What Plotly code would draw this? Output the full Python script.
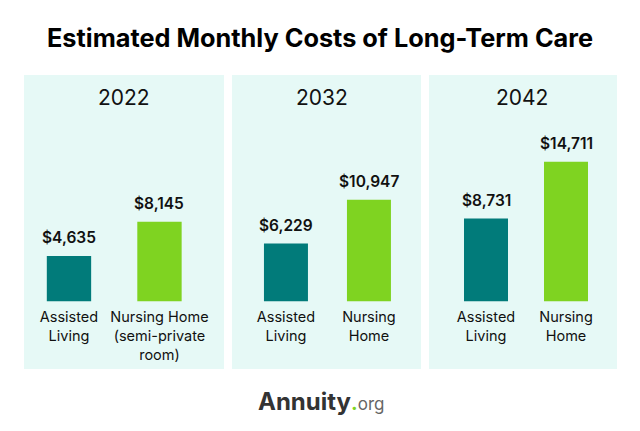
import plotly.graph_objects as go
from plotly.subplots import make_subplots

# data
years = ["2022", "2032", "2042"]
labels_2022 = ["Assisted<br>Living", "Nursing Home<br>(semi-private<br>room)"]
labels_2032 = ["Assisted<br>Living", "Nursing<br>Home"]
labels_2042 = ["Assisted<br>Living", "Nursing<br>Home"]
costs_2022 = [4635, 8145]
costs_2032 = [6229, 10947]
costs_2042 = [8731, 14711]

# the page body has an 8px margin, so the figure is 8px smaller than the window
PAGE_MARGIN = 8
W, H = 640 - PAGE_MARGIN, 431 - PAGE_MARGIN
TEAL = "#017B7A"
GREEN = "#7FD321"
PANEL = "#E6F9F6"
FONT = "Inter"

# pixel boxes of the three panels, left/right
panels = [(24, 224), (232, 421), (429, 617)]
year_centers = [124, 322, 522]
# x axis range for each panel so the bars sit where they do in the picture
x_ranges = [(-0.497, 1.713), (-0.65, 1.627), (-0.7125, 1.6375)]
bar_widths = [0.49, 0.53, 0.55]
panel_top, panel_bottom = 75, 369
base_y, top_y = 301.5, 130
# the original bars are not drawn to one exact scale, so each panel gets its own
y_maxes = [17500, 18441, 18053]


def px_x(v):
    return (v - PAGE_MARGIN) / W


def px_y(v):
    return 1 - (v - PAGE_MARGIN) / H


fig = make_subplots(rows=1, cols=3)

all_labels = [labels_2022, labels_2032, labels_2042]
all_costs = [costs_2022, costs_2032, costs_2042]
annotations = []
shapes = []

for i in range(3):
    n = i + 1
    xa = "x" if i == 0 else f"x{n}"
    ya = "y" if i == 0 else f"y{n}"
    fig.add_trace(
        go.Bar(
            x=[0, 1],
            y=all_costs[i],
            width=bar_widths[i],
            marker=dict(color=[TEAL, GREEN], line=dict(width=0)),
            showlegend=False,
        ),
        row=1,
        col=n,
    )
    left, right = panels[i]
    fig.update_xaxes(
        domain=[px_x(left), px_x(right)],
        range=x_ranges[i],
        tickmode="array",
        tickvals=[0, 1],
        ticktext=all_labels[i],
        tickangle=0,
        ticks="",
        ticklabelstandoff=5,
        showgrid=False,
        zeroline=False,
        showline=False,
        tickfont=dict(family=FONT, size=14.5, color="#111111"),
        row=1,
        col=n,
    )
    fig.update_yaxes(
        domain=[px_y(base_y), px_y(top_y)],
        range=[0, y_maxes[i]],
        visible=False,
        row=1,
        col=n,
    )
    shapes.append(
        dict(
            type="rect",
            xref="paper",
            yref="paper",
            x0=px_x(left),
            x1=px_x(right),
            y0=px_y(panel_bottom),
            y1=px_y(panel_top),
            fillcolor=PANEL,
            line_width=0,
            layer="below",
        )
    )
    annotations.append(
        dict(
            text=years[i],
            xref="paper",
            yref="paper",
            x=px_x(year_centers[i]),
            y=px_y(98),
            xanchor="center",
            yanchor="middle",
            showarrow=False,
            font=dict(family=FONT, size=21, color="#111111"),
        )
    )
    # dollar labels over the bars
    for j, cost in enumerate(all_costs[i]):
        annotations.append(
            dict(
                text=f"${cost:,}",
                xref=xa,
                yref=ya,
                x=j,
                y=cost,
                xanchor="center",
                yanchor="bottom",
                yshift=7,
                showarrow=False,
                font=dict(family=FONT, size=15.5, color="#111111", weight=600),
            )
        )

annotations.append(
    dict(
        text="Estimated Monthly Costs of Long-Term Care",
        xref="paper",
        yref="paper",
        x=px_x(320),
        y=px_y(38),
        xanchor="center",
        yanchor="middle",
        showarrow=False,
        font=dict(family=FONT, size=25.3, color="#000000", weight=700),
    )
)

# logo
annotations.append(
    dict(
        text='<b>Annuity</b><span style="color:#7FD321;font-size:20px"><b>.</b></span>'
        '<span style="color:#666666;font-size:17px">org</span>',
        xref="paper",
        yref="paper",
        x=px_x(321),
        y=px_y(401),
        xanchor="center",
        yanchor="middle",
        showarrow=False,
        font=dict(family=FONT, size=24, color="#333333"),
    )
)

fig.update_layout(
    width=W,
    height=H,
    margin=dict(l=0, r=0, t=0, b=0),
    paper_bgcolor="white",
    plot_bgcolor="rgba(0,0,0,0)",
    annotations=annotations,
    shapes=shapes,
)

fig.write_html("out.html")
